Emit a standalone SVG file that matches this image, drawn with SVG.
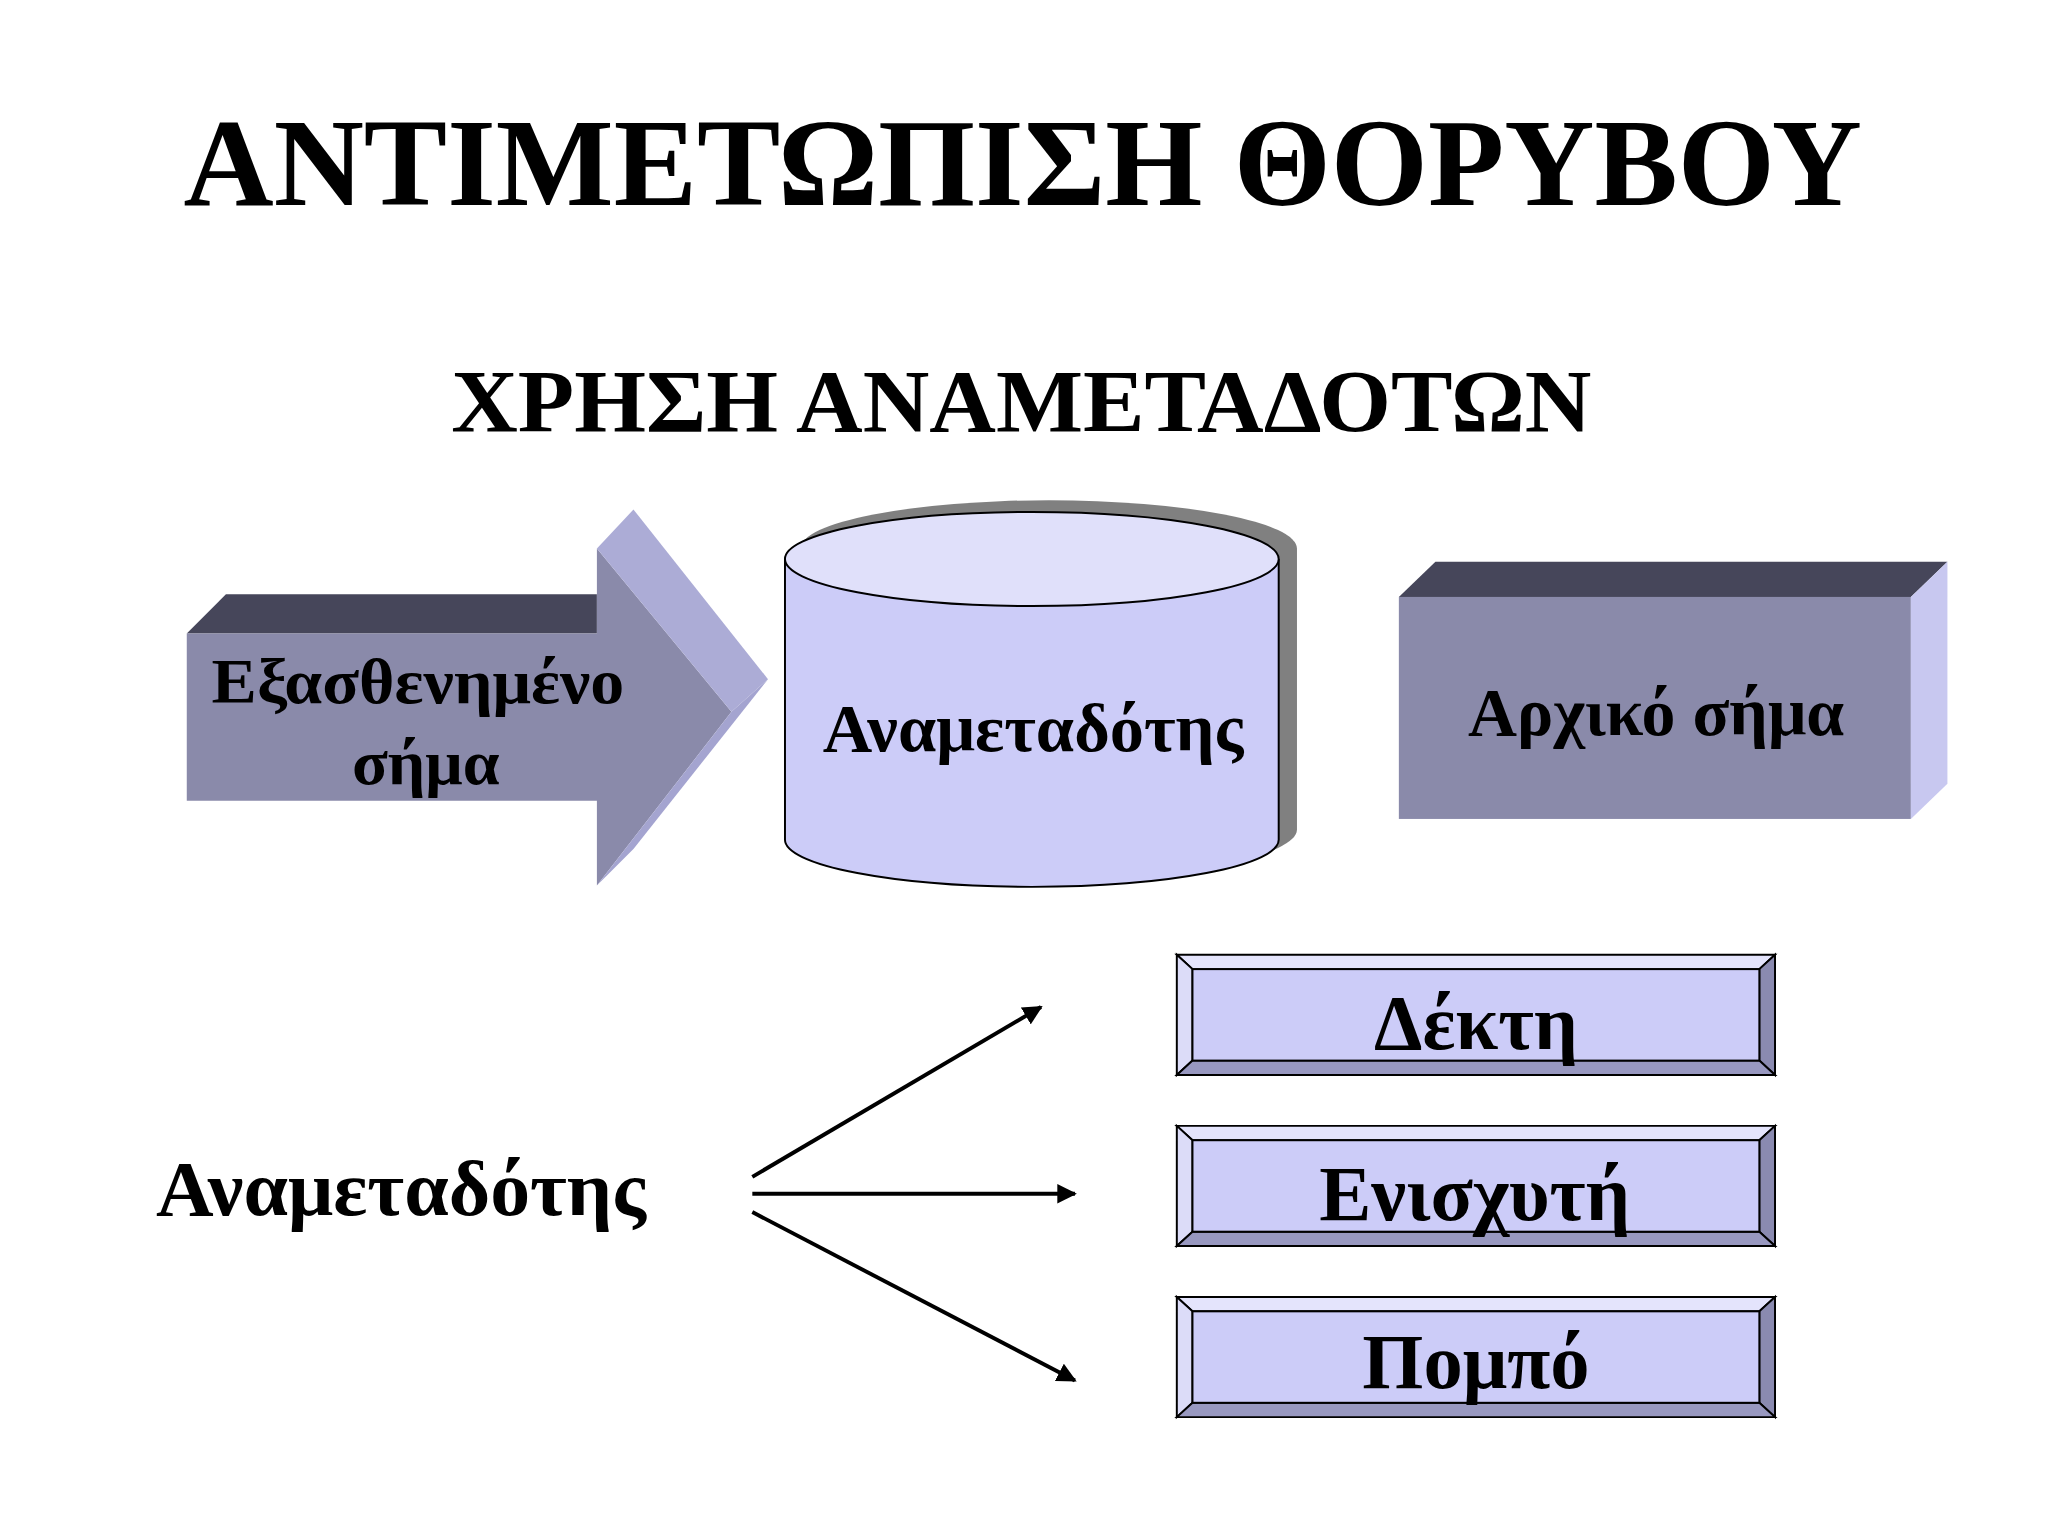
<svg xmlns="http://www.w3.org/2000/svg" width="2048" height="1536" viewBox="0 0 2048 1536">
<style>
text{font-family:"Liberation Serif","DejaVu Serif",serif;font-weight:bold;fill:#000;text-anchor:middle}
.b{stroke:#000;stroke-width:1.5}
</style>
<defs><marker id="ah" viewBox="0 0 10 10" refX="9" refY="5" markerWidth="5" markerHeight="5" orient="auto"><path d="M0,0L10,5L0,10z" fill="#000"/></marker></defs>
<rect width="2048" height="1536" fill="#fff"/>
<g transform="scale(1.30612)">
<g id="title"><text x="783" y="157" font-size="96" textLength="1285" lengthAdjust="spacingAndGlyphs">ΑΝΤΙΜΕΤΩΠΙΣΗ ΘΟΡΥΒΟΥ</text></g>
<g id="subtitle"><text x="782" y="330" font-size="68" textLength="873" lengthAdjust="spacingAndGlyphs">ΧΡΗΣΗ ΑΝΑΜΕΤΑΔΟΤΩΝ</text></g>
<g id="arrow">
<polygon points="143,485 173,455 457,455 457,485" fill="#46465a"/>
<polygon points="143,485 457,485 457,420 560,545 457,678 457,613 143,613" fill="#8a8aaa"/>
<polygon points="457,420 485,390 588,520 560,545" fill="#acacd6"/>
<polygon points="560,545 588,520 485,650 457,678" fill="#a4a4d0"/>
<text x="320" y="538" font-size="48" textLength="316" lengthAdjust="spacingAndGlyphs">Εξασθενημένο</text>
<text x="326" y="600" font-size="48" textLength="113" lengthAdjust="spacingAndGlyphs">σήμα</text>
</g>
<g id="cylinder">
<path d="M613,420 A190,37 0 0 1 993,420 V635 A190,37 0 0 1 613,635 Z" fill="#808080"/>
<path d="M601,428 V643 A189,36 0 0 0 979,643 V428" fill="#ccccf8" class="b"/>
<ellipse cx="790" cy="428" rx="189" ry="36" fill="#e0e0fa" class="b"/>
<text x="791" y="575" font-size="52" textLength="322" lengthAdjust="spacingAndGlyphs">Αναμεταδότης</text>
</g>
<g id="box">
<polygon points="1071,457 1099,430 1491,430 1463,457" fill="#46465a"/>
<rect x="1071" y="457" width="392" height="170" fill="#8a8aaa"/>
<polygon points="1463,457 1491,430 1491,600 1463,627" fill="#c8c8f0"/>
<text x="1268" y="563" font-size="52" textLength="288" lengthAdjust="spacingAndGlyphs">Αρχικό σήμα</text>
</g>
<g id="left"><text x="307" y="930" font-size="60" textLength="375" lengthAdjust="spacingAndGlyphs">Αναμεταδότης</text></g>
<g id="connectors" stroke="#000" stroke-width="3" marker-end="url(#ah)">
<line x1="576" y1="901" x2="797" y2="771"/>
<line x1="576" y1="914" x2="823" y2="914"/>
<line x1="576" y1="928" x2="823" y2="1057"/>
</g>
<g id="b1">
<polygon points="901,731 1359,731 1347,742 913,742" fill="#e4e4fc" class="b"/>
<polygon points="901,731 913,742 913,812 901,823" fill="#dcdcf8" class="b"/>
<polygon points="1359,731 1359,823 1347,812 1347,742" fill="#8a8ab0" class="b"/>
<polygon points="901,823 913,812 1347,812 1359,823" fill="#9898c0" class="b"/>
<rect x="913" y="742" width="434" height="70" fill="#ccccf8" class="b"/>
<text x="1130" y="803" font-size="60" textLength="156" lengthAdjust="spacingAndGlyphs">Δέκτη</text>
</g>
<g id="b2" transform="translate(0,131)">
<polygon points="901,731 1359,731 1347,742 913,742" fill="#e4e4fc" class="b"/>
<polygon points="901,731 913,742 913,812 901,823" fill="#dcdcf8" class="b"/>
<polygon points="1359,731 1359,823 1347,812 1347,742" fill="#8a8ab0" class="b"/>
<polygon points="901,823 913,812 1347,812 1359,823" fill="#9898c0" class="b"/>
<rect x="913" y="742" width="434" height="70" fill="#ccccf8" class="b"/>
<text x="1129" y="803" font-size="60" textLength="238" lengthAdjust="spacingAndGlyphs">Ενισχυτή</text>
</g>
<g id="b3" transform="translate(0,262)">
<polygon points="901,731 1359,731 1347,742 913,742" fill="#e4e4fc" class="b"/>
<polygon points="901,731 913,742 913,812 901,823" fill="#dcdcf8" class="b"/>
<polygon points="1359,731 1359,823 1347,812 1347,742" fill="#8a8ab0" class="b"/>
<polygon points="901,823 913,812 1347,812 1359,823" fill="#9898c0" class="b"/>
<rect x="913" y="742" width="434" height="70" fill="#ccccf8" class="b"/>
<text x="1130" y="801" font-size="60" textLength="174" lengthAdjust="spacingAndGlyphs">Πομπό</text>
</g>
</g>
</svg>
